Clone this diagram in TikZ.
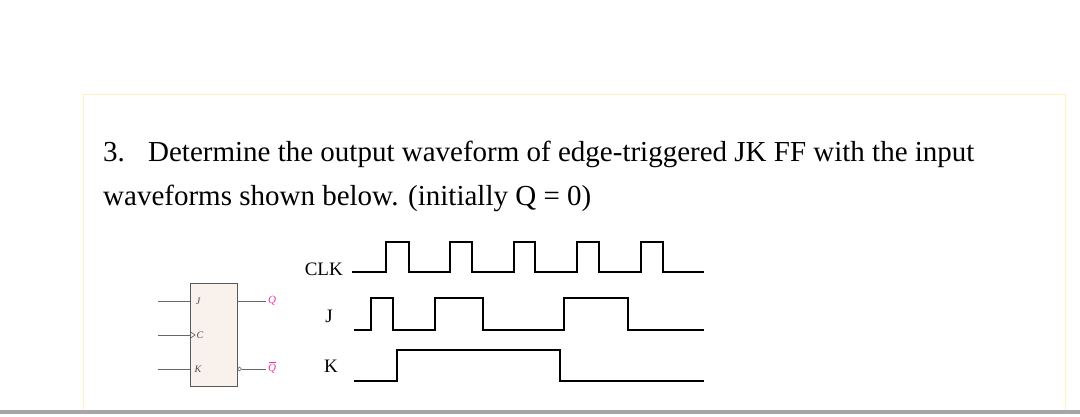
\documentclass[tikz,border=0pt]{standalone}
\usepackage{fontspec}
\setmainfont{Liberation Serif}
\begin{document}
\begin{tikzpicture}[x=1pt,y=-1pt,
  wave/.style={line width=2pt,line join=miter},
  pin/.style={draw=gray!80!black,line width=0.8pt},
  lbl/.style={inner sep=0pt,font=\fontsize{19}{22}\selectfont}]
\useasboundingbox (0,0) rectangle (1080,417);
\fill[white] (0,0) rectangle (1080,417);
\draw[yellow!15!white!90!orange,line width=1pt] (83,412) -- (83,95) -- (1065,95) -- (1065,412);
\fill[gray!70] (0,410) rectangle (1080,414);
\node[anchor=base west,inner sep=0pt,font=\fontsize{29}{32}\selectfont] (t1) at (103,162) {3.\hspace{0.8em}Determine the output waveform of edge-triggered JK FF with the input};
\node[anchor=base west,inner sep=0pt,font=\fontsize{29}{32}\selectfont] (t2) at (103,206) {waveforms shown below. (initially Q = 0)};
% labels
\node[lbl,anchor=base east] (clk) at (343,275) {CLK};
\node[lbl,anchor=base east] (jl) at (333,322) {J};
\node[lbl,anchor=base east] (kl) at (338,372) {K};
% waves
\draw[wave] (352,272) -- (385.5,272) -- (385.5,242) -- (408.5,242) -- (408.5,272) -- (449.5,272) -- (449.5,242) -- (472,242) -- (472,272) -- (513.5,272) -- (513.5,242) -- (534.5,242) -- (534.5,272) -- (577,272) -- (577,242) -- (598.5,242) -- (598.5,272) -- (640.5,272) -- (640.5,242) -- (662.5,242) -- (662.5,272) -- (704,272);
\draw[wave] (354,329.5) -- (371,329.5) -- (371,298) -- (393,298) -- (393,329.5) -- (435,329.5) -- (435,298) -- (483,298) -- (483,329.5) -- (564,329.5) -- (564,298) -- (628,298) -- (628,329.5) -- (704,329.5);
\draw[wave] (354,380.5) -- (397,380.5) -- (397,349.5) -- (560,349.5) -- (560,380.5) -- (704,380.5);
% flip-flop
\node[draw=gray!70!black,fill=brown!10!white,line width=0.8pt,minimum width=47pt,minimum height=103pt,inner sep=0pt] (ff) at (213.5,334.5) {};
\coordinate (ji) at (158,301); \coordinate (ci) at (158,335); \coordinate (ki) at (158,369);
\coordinate (jp) at (190,301); \coordinate (cp) at (190,335); \coordinate (kp) at (190,369);
\draw[pin] (ji) -- (jp); \draw[pin] (ci) -- (cp); \draw[pin] (ki) -- (kp);
\draw[gray!70!black,line width=0.6pt] (190,331.5) -- (195,335) -- (190,338.5);
\node[inner sep=0pt,font=\fontsize{10}{11}\selectfont\itshape,text=gray!60!black] (jt) at (198,301) {J};
\node[inner sep=0pt,font=\fontsize{10}{11}\selectfont\itshape,text=gray!60!black] (ct) at (200,335) {C};
\node[inner sep=0pt,font=\fontsize{10}{11}\selectfont\itshape,text=gray!60!black] (kt) at (198,369) {K};
\coordinate (qo) at (237,301); \coordinate (qe) at (266,301);
\draw[pin] (qo) -- (qe);
\node[circle,draw=gray!70!black,line width=0.6pt,fill=white,inner sep=1.4pt] (bub) at (239.5,369) {};
\coordinate (qbe) at (266,369);
\draw[pin] (bub) -- (qbe);
\node[inner sep=0pt,anchor=west,font=\fontsize{11}{12}\selectfont\itshape,text=magenta!80] (q) at (268,301) {Q};
\node[inner sep=0pt,anchor=west,font=\fontsize{11}{12}\selectfont\itshape,text=magenta!80] (qb) at (268,369) {Q};
\draw[magenta!80,line width=0.5pt] (269,362) -- (276,362);
\end{tikzpicture}
\end{document}
